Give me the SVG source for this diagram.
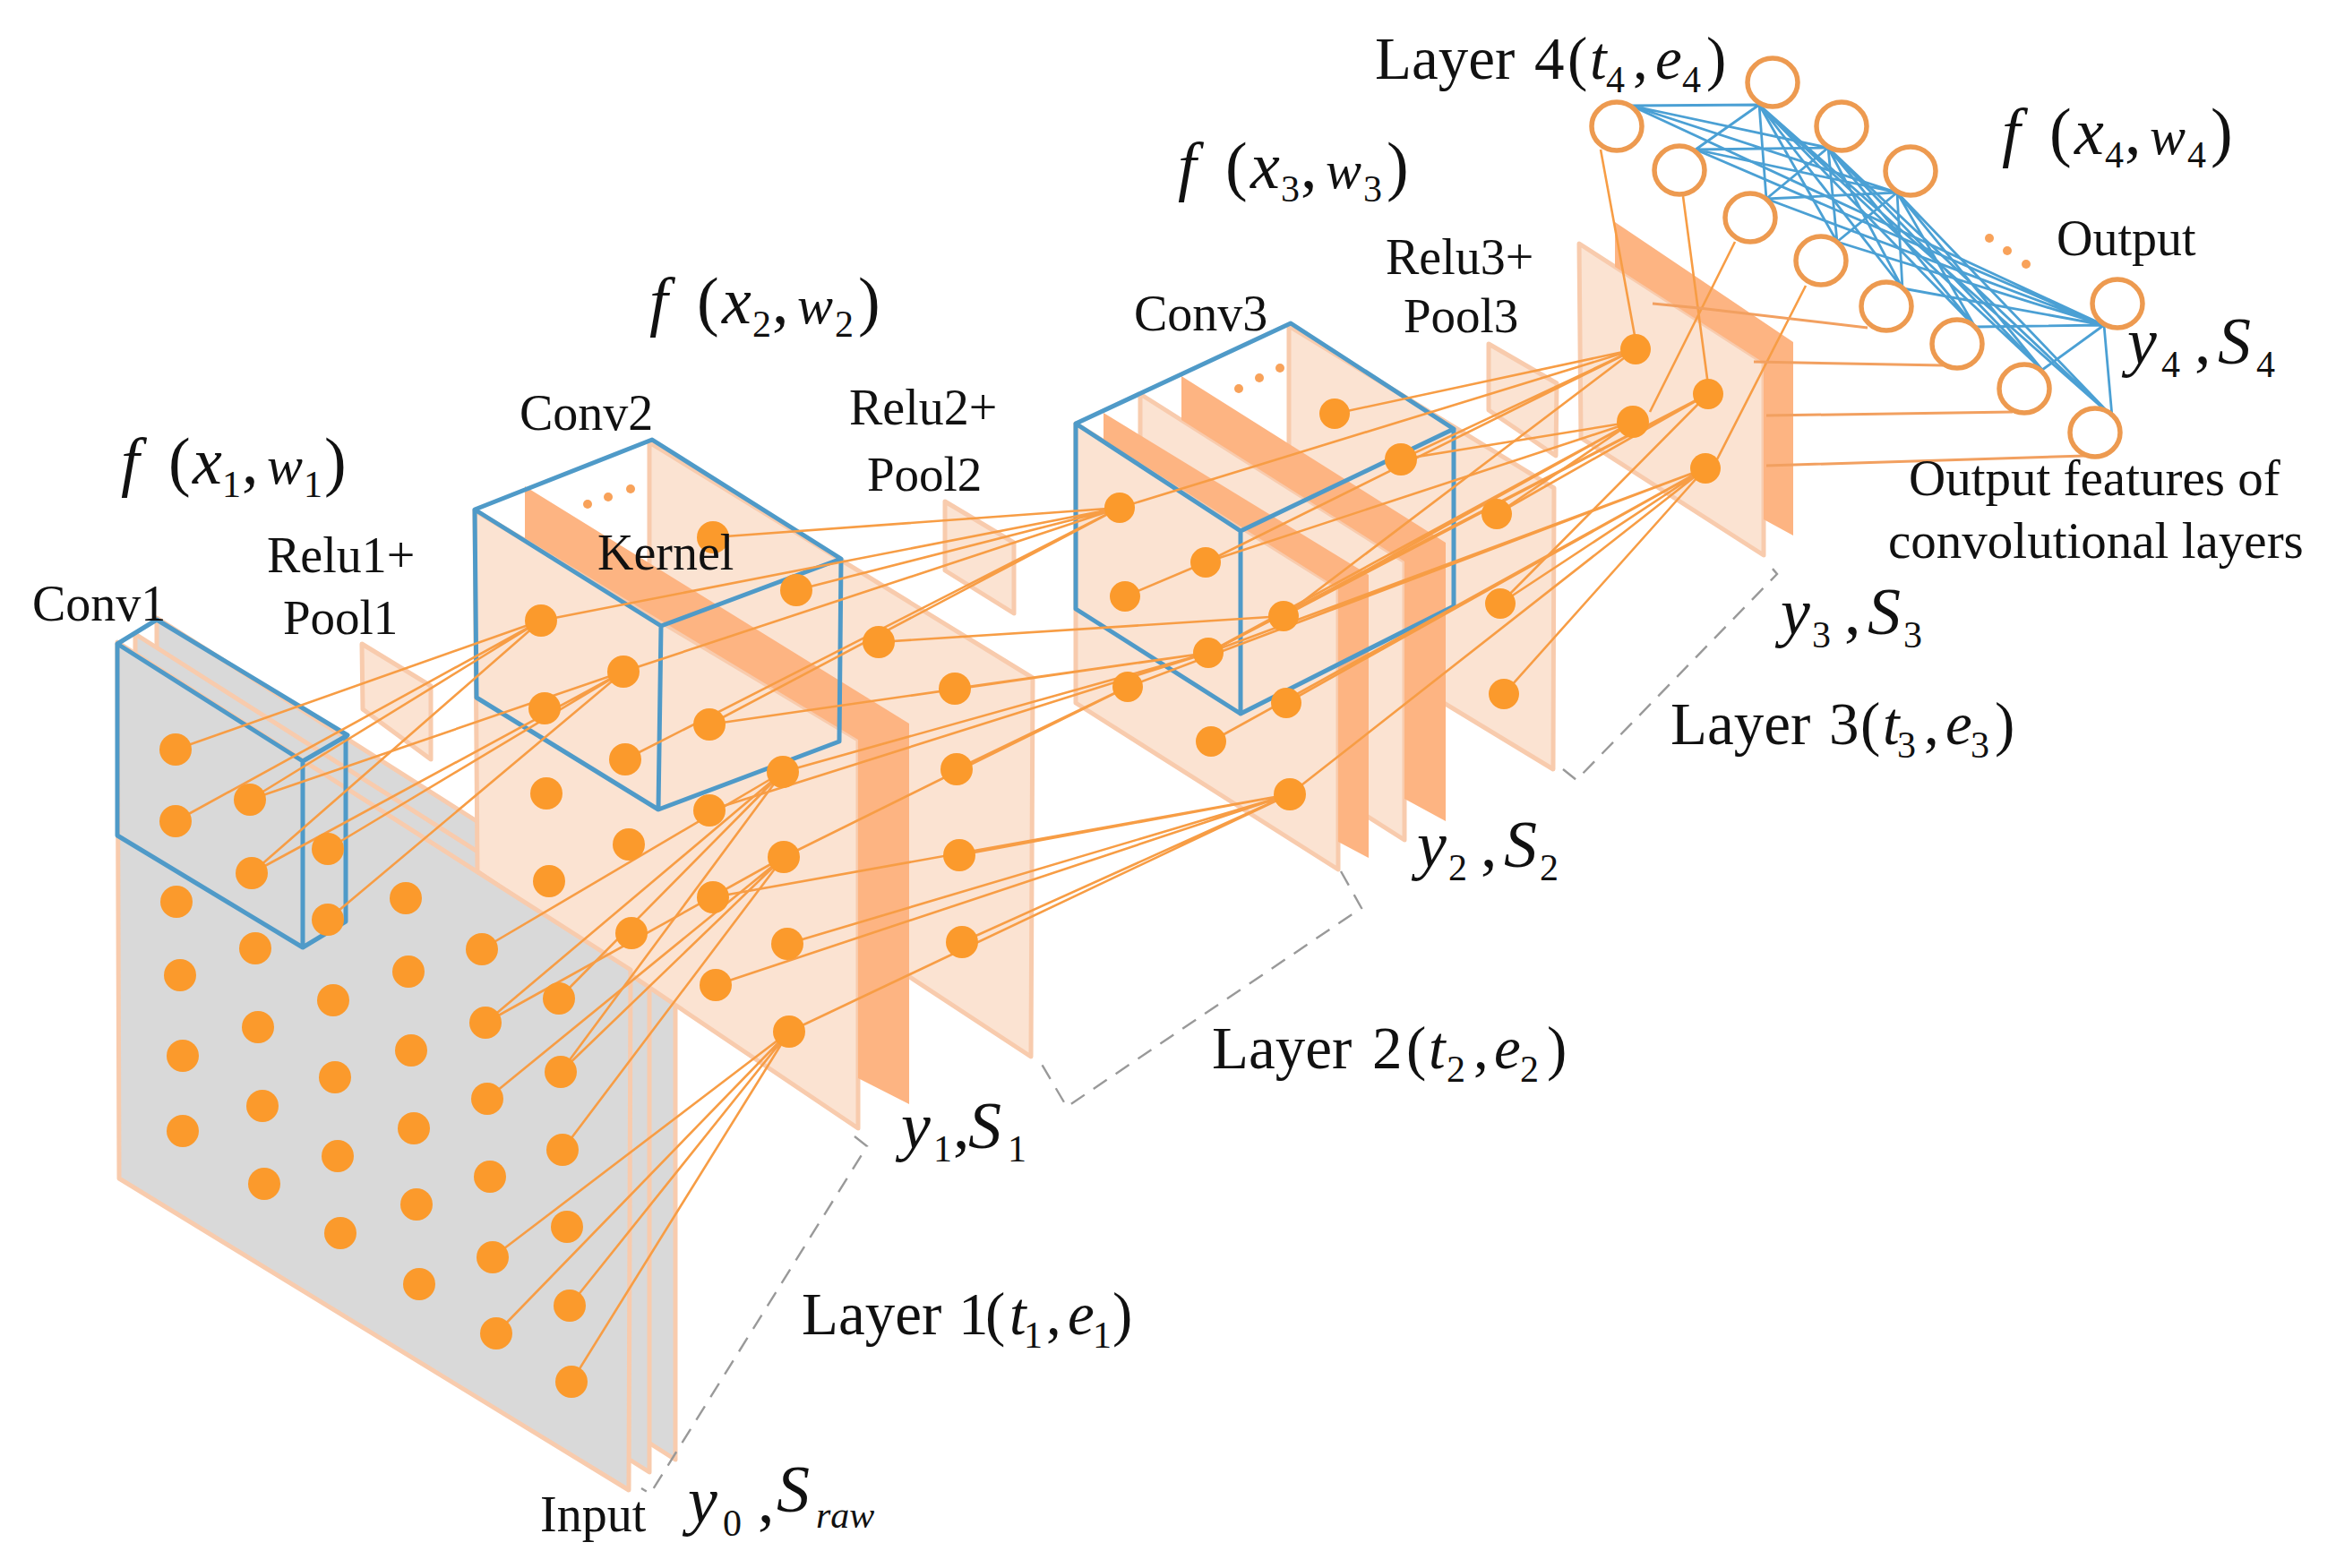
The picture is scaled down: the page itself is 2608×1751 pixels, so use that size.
<svg xmlns="http://www.w3.org/2000/svg" width="2608" height="1751" viewBox="0 0 2608 1751">
<style>
.g{fill:#d9d9d9;stroke:#f8cbad;stroke-width:5;stroke-linejoin:round}
.p{fill:#fbe3d2;stroke:#f8cbad;stroke-width:5;stroke-linejoin:round}
.s{fill:#fdb482;stroke:none}
.b{fill:none;stroke:#4f9ac8;stroke-width:5;stroke-linejoin:round}
.c{fill:none;stroke:#f79d45;stroke-width:2.6}
.c2{fill:none;stroke:#f2a060;stroke-width:3}
.n{fill:none;stroke:#4ba0d4;stroke-width:2.8}
.d{fill:none;stroke:#999;stroke-width:2.4;stroke-dasharray:18 12}
.o{fill:#fb9a2c}
.e{fill:#f8a25a}
.r{fill:#fff;fill-opacity:0;stroke:#ed9a50;stroke-width:5.5}
text{font-family:"Liberation Serif","Times New Roman",serif;fill:#111}
.t{font-size:56px}
.t2{font-size:57px}
.q{font-size:55px}
.m{font-size:74px}
.l{font-size:67px}
.i{font-style:italic}
.u{font-size:42px}
.w{font-size:60px}
</style>
<g id="panels">
<polygon id="input-3" class="g" points="175,690 754,1058 754,1630 175,1260"/>
<polygon id="input-2" class="g" points="151,708 725,1073 725,1644 151,1280"/>
<polygon id="l1-back" class="p" points="725,494 1153,757 1151,1180 725,900"/>
<polygon id="l1-front" class="p" points="530,570 958,826 958,1260 533,973"/>
<polygon id="l1-strip" class="s" points="586,543 1015,808 1015,1233 958,1204 958,826 586,601"/>
<polygon id="input-1" class="g" points="131,717 704,1083 702,1664 133,1316"/>
<polygon id="pool1" class="p" points="404,719 481,766 481,848 405,792"/>
<polygon id="pool2" class="p" points="1055,560 1132,606 1132,685 1055,637"/>
<polygon id="l2-back" class="p" points="1439,364 1735,545 1734,859 1439,680"/>
<polygon id="l2-mid" class="p" points="1273,440 1568,627 1568,938 1273,750"/>
<polygon id="l2-strip2" class="s" points="1319,420 1614,606 1614,917 1568,892 1568,627 1319,469"/>
<polygon id="l2-front" class="p" points="1201,473 1494,657 1494,971 1201,785"/>
<polygon id="l2-strip1" class="s" points="1232,461 1528,642 1528,958 1494,940 1494,657 1232,491"/>
<polygon id="pool3" class="p" points="1662,384 1738,428 1737,509 1662,458"/>
<polygon id="l3-panel" class="p" points="1763,272 1969,405 1969,620 1765,489"/>
<polygon id="l3-strip" class="s" points="1803,248 2002,382 2002,598 1969,580 1969,405 1803,298"/>
</g>
<g id="kernels">
<path id="kernel1" class="b" d="M131 719L175 692L388 821L338 850ZM338 850V1058L386 1029V821M131 719V933L338 1058"/>
<path id="kernel2" class="b" d="M530 569L728 491L939 624L738 699ZM738 699L735 904L937 828L939 624M530 569L532 779L735 904"/>
<path id="kernel3" class="b" d="M1201 473L1441 361L1623 479L1385 593ZM1385 593V797L1623 677V479M1201 473V680L1385 797"/>
</g>
<g id="connectors">
<path class="c" d="M196 837L604 693M196 917L604 693M279 893L604 693M281 975L604 693"/>
<path class="c" d="M279 893L696 750M281 975L696 750M366 948L696 750M366 1027L696 750"/>
<path class="c" d="M538 1060L874 862M624 1115L874 862M542 1142L874 862M626 1197L874 862"/>
<path class="c" d="M542 1142L875 957M626 1197L875 957M544 1227L875 957M628 1284L875 957"/>
<path class="c" d="M550 1404L881 1152M554 1489L881 1152M636 1458L881 1152M638 1543L881 1152"/>
<path class="c" d="M796 600L1250 567M889 659L1250 567M604 693L1250 567M696 750L1250 567M792 809L1250 567M698 848L1250 567"/>
<path class="c" d="M981 717L1433 688"/>
<path class="c" d="M1066 769L1349 729M792 809L1349 729M874 862L1349 729M792 905L1349 729"/>
<path class="c" d="M1068 859L1259 767M875 957L1259 767"/>
<path class="c" d="M1071 955L1440 887M796 1002L1440 887M879 1054L1440 887M799 1100L1440 887M1074 1052L1440 887M881 1152L1440 887"/>
<path class="c" d="M1256 666L1346 628M1490 462L1826 390M1564 513L1826 390M1250 567L1826 390M1346 628L1826 390M1433 688L1826 390"/>
<path class="c" d="M1671 574L1907 440M1433 688L1907 440M1675 674L1907 440M1349 729L1907 440"/>
<path class="c" d="M1564 513L1823 471M1346 628L1823 471M1671 574L1823 471M1433 688L1823 471M1349 729L1823 471"/>
<path class="c" d="M1679 775L1904 523M1440 887L1904 523M1675 674L1904 523M1436 785L1904 523M1352 828L1904 523M1349 729L1904 523M1259 767L1904 523"/>
<path class="c" d="M1787 167L1826 380M1879 219L1907 430M1937 270L1842 460M2016 319L1917 513"/>
<path class="c2" d="M1845 339L1897 344L2085 366M1958 404L2169 408M1972 464L2247 460M1972 520L2328 509"/>
<path class="n" d="M1821 118L1964 117M1821 118L2041 165M1821 118L2118 215M1893 167L1964 117M1893 167L2041 165M1893 167L2118 215M1972 222L1964 117M1972 222L2041 165M1972 222L2118 215M2051 270L1964 117M2051 270L2041 165M2051 270L2118 215"/>
<path class="n" d="M1964 117L2124 322M1964 117L2205 365M1964 117L2280 413M1964 117L2358 465M2041 165L2124 322M2041 165L2205 365M2041 165L2280 413M2041 165L2358 465M2118 215L2124 322M2118 215L2205 365M2118 215L2280 413M2118 215L2358 465"/>
<path class="n" d="M1821 118L2349 363M1893 167L2349 363M1972 222L2349 363M2051 270L2349 363M2124 322L2349 363M2205 365L2349 363M2280 413L2349 363M2358 465L2349 363"/>
<path id="bracket1" class="d" d="M954 1269L968 1280L726 1668L716 1662"/>
<path id="bracket2" class="d" d="M1497 973L1520 1014L1191 1236L1158 1180"/>
<path id="bracket3" class="d" d="M1745 859L1760 871L1984 641L1972 627"/>
</g>
<g id="input-dots" class="o">
<g id="i11"><circle cx="196" cy="837" r="18"/></g><g id="i12"><circle cx="196" cy="917" r="18"/></g><g id="i13"><circle cx="197" cy="1007" r="18"/></g><g id="i14"><circle cx="201" cy="1089" r="18"/></g><g id="i15"><circle cx="204" cy="1179" r="18"/></g><g id="i16"><circle cx="204" cy="1263" r="18"/></g>
<g id="i21"><circle cx="279" cy="893" r="18"/></g><g id="i22"><circle cx="281" cy="975" r="18"/></g><g id="i23"><circle cx="285" cy="1059" r="18"/></g><g id="i24"><circle cx="288" cy="1147" r="18"/></g><g id="i25"><circle cx="293" cy="1235" r="18"/></g><g id="i26"><circle cx="295" cy="1322" r="18"/></g>
<g id="i31"><circle cx="366" cy="948" r="18"/></g><g id="i32"><circle cx="366" cy="1027" r="18"/></g><g id="i33"><circle cx="372" cy="1117" r="18"/></g><g id="i34"><circle cx="374" cy="1203" r="18"/></g><g id="i35"><circle cx="377" cy="1291" r="18"/></g><g id="i36"><circle cx="380" cy="1377" r="18"/></g>
<g id="i41"><circle cx="453" cy="1003" r="18"/></g><g id="i42"><circle cx="456" cy="1085" r="18"/></g><g id="i43"><circle cx="459" cy="1173" r="18"/></g><g id="i44"><circle cx="462" cy="1260" r="18"/></g><g id="i45"><circle cx="465" cy="1345" r="18"/></g><g id="i46"><circle cx="468" cy="1434" r="18"/></g>
<g id="i51"><circle cx="538" cy="1060" r="18"/></g><g id="i52"><circle cx="542" cy="1142" r="18"/></g><g id="i53"><circle cx="544" cy="1227" r="18"/></g><g id="i54"><circle cx="547" cy="1314" r="18"/></g><g id="i55"><circle cx="550" cy="1404" r="18"/></g><g id="i56"><circle cx="554" cy="1489" r="18"/></g>
<g id="i61"><circle cx="624" cy="1115" r="18"/></g><g id="i62"><circle cx="626" cy="1197" r="18"/></g><g id="i63"><circle cx="628" cy="1284" r="18"/></g><g id="i64"><circle cx="633" cy="1370" r="18"/></g><g id="i65"><circle cx="636" cy="1458" r="18"/></g><g id="i66"><circle cx="638" cy="1543" r="18"/></g>
</g>
<g id="layer1-dots" class="o">
<g id="a11"><circle cx="604" cy="693" r="18"/></g><g id="a12"><circle cx="608" cy="791" r="18"/></g><g id="a13"><circle cx="610" cy="886" r="18"/></g><g id="a14"><circle cx="613" cy="984" r="18"/></g>
<g id="a21"><circle cx="696" cy="750" r="18"/></g><g id="a22"><circle cx="698" cy="848" r="18"/></g><g id="a23"><circle cx="702" cy="943" r="18"/></g><g id="a24"><circle cx="705" cy="1042" r="18"/></g>
<g id="a31"><circle cx="792" cy="809" r="18"/></g><g id="a32"><circle cx="792" cy="905" r="18"/></g><g id="a33"><circle cx="796" cy="1002" r="18"/></g><g id="a34"><circle cx="799" cy="1100" r="18"/></g>
<g id="a41"><circle cx="874" cy="862" r="18"/></g><g id="a42"><circle cx="875" cy="957" r="18"/></g><g id="a43"><circle cx="879" cy="1054" r="18"/></g><g id="a44"><circle cx="881" cy="1152" r="18"/></g>
<g id="b1"><circle cx="796" cy="600" r="18"/></g><g id="b2"><circle cx="889" cy="659" r="18"/></g><g id="b3"><circle cx="981" cy="717" r="18"/></g><g id="b4"><circle cx="1066" cy="769" r="18"/></g><g id="b5"><circle cx="1068" cy="859" r="18"/></g><g id="b6"><circle cx="1071" cy="955" r="18"/></g><g id="b7"><circle cx="1074" cy="1052" r="18"/></g>
</g>
<g id="layer2-dots" class="o">
<g id="c1"><circle cx="1250" cy="567" r="17"/></g><g id="c2"><circle cx="1256" cy="666" r="17"/></g><g id="c3"><circle cx="1346" cy="628" r="17"/></g><g id="c4"><circle cx="1259" cy="767" r="17"/></g><g id="c5"><circle cx="1349" cy="729" r="17"/></g><g id="c6"><circle cx="1433" cy="688" r="17"/></g><g id="c7"><circle cx="1352" cy="828" r="17"/></g><g id="c8"><circle cx="1436" cy="785" r="17"/></g><g id="c9"><circle cx="1440" cy="887" r="18"/></g>
<g id="e1"><circle cx="1490" cy="462" r="17"/></g><g id="e2"><circle cx="1564" cy="513" r="18"/></g><g id="e3"><circle cx="1671" cy="574" r="17"/></g><g id="e4"><circle cx="1675" cy="674" r="17"/></g><g id="e5"><circle cx="1679" cy="775" r="17"/></g>
</g>
<g id="layer3-dots" class="o">
<g id="f1"><circle cx="1826" cy="390" r="17"/></g><g id="f2"><circle cx="1907" cy="440" r="17"/></g><g id="f3"><circle cx="1823" cy="471" r="18"/></g><g id="f4"><circle cx="1904" cy="523" r="17"/></g>
</g>
<g id="ellipsis" class="e">
<circle cx="656" cy="563" r="5"/><circle cx="679" cy="555" r="5"/><circle cx="704" cy="546" r="5"/>
<circle cx="1383" cy="434" r="5"/><circle cx="1406" cy="422" r="5"/><circle cx="1429" cy="411" r="5"/>
<circle cx="2221" cy="266" r="5"/><circle cx="2241" cy="280" r="5"/><circle cx="2262" cy="295" r="5"/>
</g>
<g id="fc-layer">
<g id="r1"><ellipse class="r" cx="1805" cy="141" rx="28" ry="27"/></g>
<g id="r2"><ellipse class="r" cx="1875" cy="190" rx="28" ry="27"/></g>
<g id="r3"><ellipse class="r" cx="1954" cy="243" rx="28" ry="27"/></g>
<g id="r4"><ellipse class="r" cx="2033" cy="291" rx="28" ry="27"/></g>
<g id="r5"><ellipse class="r" cx="1979" cy="92" rx="28" ry="27"/></g>
<g id="r6"><ellipse class="r" cx="2056" cy="141" rx="28" ry="27"/></g>
<g id="r7"><ellipse class="r" cx="2133" cy="191" rx="28" ry="27"/></g>
<g id="r8"><ellipse class="r" cx="2106" cy="342" rx="28" ry="27"/></g>
<g id="r9"><ellipse class="r" cx="2185" cy="384" rx="28" ry="27"/></g>
<g id="r10"><ellipse class="r" cx="2260" cy="434" rx="28" ry="27"/></g>
<g id="r11"><ellipse class="r" cx="2339" cy="483" rx="28" ry="27"/></g>
<g id="r12"><ellipse class="r" cx="2364" cy="339" rx="28" ry="27"/></g>
</g>
<g id="labels">
<text class="t" x="36" y="693">Conv1</text>
<text class="t" x="298" y="639">Relu1+</text>
<text class="q" x="316" y="708">Pool1</text>
<text class="t" x="667" y="636">Kernel</text>
<text class="t" x="580" y="480">Conv2</text>
<text class="t" x="948" y="474">Relu2+</text>
<text class="q" x="968" y="548">Pool2</text>
<text class="t" x="1266" y="369">Conv3</text>
<text class="t" x="1547" y="306">Relu3+</text>
<text class="q" x="1567" y="371">Pool3</text>
<text class="t" x="603" y="1710">Input</text>
<text class="t" x="2296" y="285">Output</text>
<text class="t2" x="2131" y="553">Output features of</text>
<text class="t2" x="2108" y="623">convolutional layers</text>

<text class="m" y="540"><tspan class="i" x="135">f</tspan><tspan x="188">(</tspan><tspan class="i" x="215">x</tspan><tspan class="u" x="248" y="555">1</tspan><tspan x="270" y="540">,</tspan><tspan class="i w" x="298">w</tspan><tspan class="u" x="339" y="555">1</tspan><tspan x="362" y="540">)</tspan></text>
<text class="m" y="361"><tspan class="i" x="725">f</tspan><tspan x="778">(</tspan><tspan class="i" x="806">x</tspan><tspan class="u" x="840" y="376">2</tspan><tspan x="862" y="361">,</tspan><tspan class="i w" x="890">w</tspan><tspan class="u" x="932" y="376">2</tspan><tspan x="958" y="361">)</tspan></text>
<text class="m" y="210"><tspan class="i" x="1315">f</tspan><tspan x="1368">(</tspan><tspan class="i" x="1396">x</tspan><tspan class="u" x="1430" y="225">3</tspan><tspan x="1452" y="210">,</tspan><tspan class="i w" x="1480">w</tspan><tspan class="u" x="1522" y="225">3</tspan><tspan x="1548" y="210">)</tspan></text>
<text class="m" y="172"><tspan class="i" x="2235">f</tspan><tspan x="2288">(</tspan><tspan class="i" x="2316">x</tspan><tspan class="u" x="2350" y="187">4</tspan><tspan x="2372" y="172">,</tspan><tspan class="i w" x="2400">w</tspan><tspan class="u" x="2442" y="187">4</tspan><tspan x="2468" y="172">)</tspan></text>

<text class="m" y="1700"><tspan class="i" x="768">y</tspan><tspan class="u" x="807" y="1715">0</tspan><tspan x="846" y="1700">,</tspan><tspan class="i" x="867" y="1688">S</tspan><tspan class="u i" x="911" y="1706">raw</tspan></text>
<text class="m" y="1282"><tspan class="i" x="1006">y</tspan><tspan class="u" x="1042" y="1297">1</tspan><tspan x="1064" y="1282">,</tspan><tspan class="i" x="1081">S</tspan><tspan class="u" x="1125" y="1297">1</tspan></text>
<text class="m" y="968"><tspan class="i" x="1582">y</tspan><tspan class="u" x="1617" y="983">2</tspan><tspan x="1653" y="968">,</tspan><tspan class="i" x="1679">S</tspan><tspan class="u" x="1719" y="983">2</tspan></text>
<text class="m" y="708"><tspan class="i" x="1988">y</tspan><tspan class="u" x="2023" y="723">3</tspan><tspan x="2059" y="708">,</tspan><tspan class="i" x="2085">S</tspan><tspan class="u" x="2125" y="723">3</tspan></text>
<text class="m" y="406"><tspan class="i" x="2375">y</tspan><tspan class="u" x="2413" y="421">4</tspan><tspan x="2450" y="406">,</tspan><tspan class="i" x="2476">S</tspan><tspan class="u" x="2519" y="421">4</tspan></text>

<text class="l" y="1490"><tspan x="895">Layer</tspan><tspan x="1070"> </tspan><tspan x="1070">1</tspan><tspan x="1100">(</tspan><tspan class="i" x="1127">t</tspan><tspan class="u" x="1143" y="1505">1</tspan><tspan x="1168" y="1490">,</tspan><tspan class="i" x="1192">e</tspan><tspan class="u" x="1220" y="1505">1</tspan><tspan x="1242" y="1490">)</tspan></text>
<text class="l" y="1193"><tspan x="1353">Layer</tspan><tspan x="1532"> </tspan><tspan x="1532">2</tspan><tspan x="1570">(</tspan><tspan class="i" x="1595">t</tspan><tspan class="u" x="1615" y="1208">2</tspan><tspan x="1645" y="1193">,</tspan><tspan class="i" x="1668">e</tspan><tspan class="u" x="1697" y="1208">2</tspan><tspan x="1727" y="1193">)</tspan></text>
<text class="l" y="831"><tspan x="1865">Layer</tspan><tspan x="2042"> </tspan><tspan x="2042">3</tspan><tspan x="2077">(</tspan><tspan class="i" x="2102">t</tspan><tspan class="u" x="2118" y="846">3</tspan><tspan x="2148" y="831">,</tspan><tspan class="i" x="2172">e</tspan><tspan class="u" x="2200" y="846">3</tspan><tspan x="2227" y="831">)</tspan></text>
<text class="l" y="88"><tspan x="1535">Layer</tspan><tspan x="1713"> </tspan><tspan x="1713">4</tspan><tspan x="1750">(</tspan><tspan class="i" x="1775">t</tspan><tspan class="u" x="1793" y="103">4</tspan><tspan x="1823" y="88">,</tspan><tspan class="i" x="1848">e</tspan><tspan class="u" x="1878" y="103">4</tspan><tspan x="1905" y="88">)</tspan></text>
</g>
</svg>
